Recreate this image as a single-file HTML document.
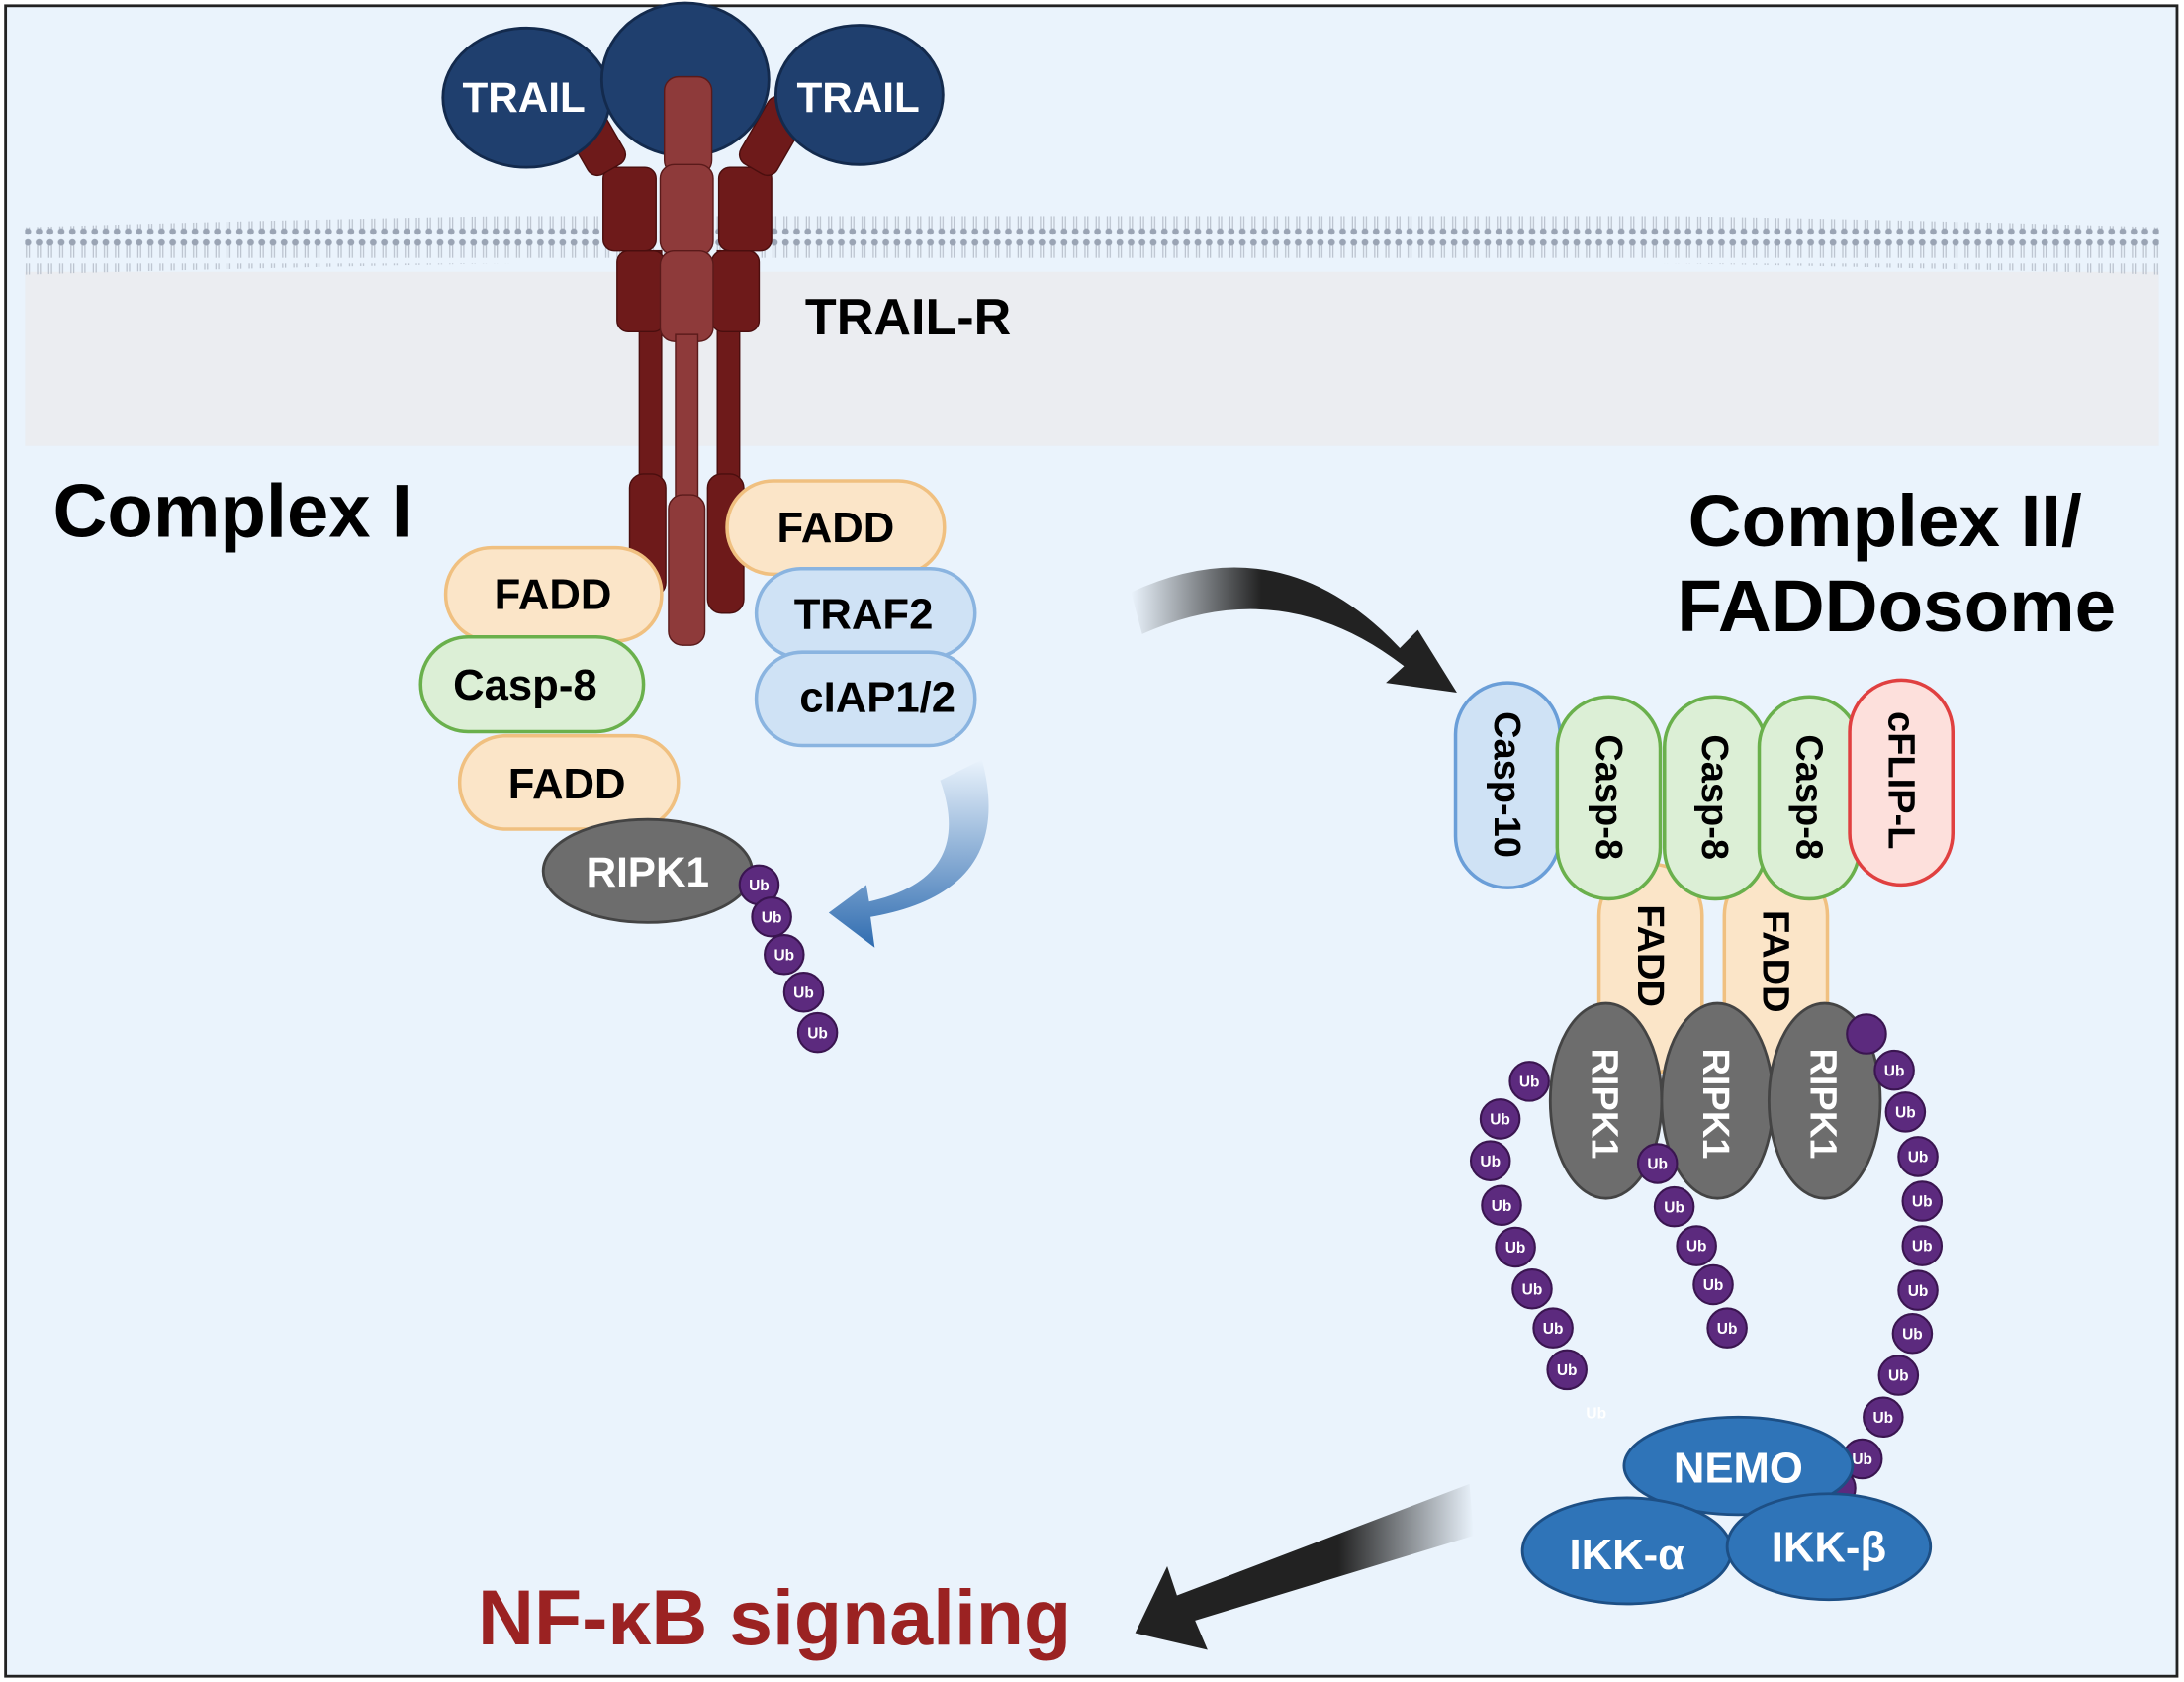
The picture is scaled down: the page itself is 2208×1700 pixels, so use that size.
<!DOCTYPE html>
<html><head><meta charset="utf-8"><style>html,body{margin:0;padding:0;background:#fff}svg{display:block}text{font-family:"Liberation Sans",sans-serif;font-weight:bold}</style></head><body>
<svg width="2208" height="1700" viewBox="0 0 1568 1207" xmlns="http://www.w3.org/2000/svg">
<defs>
<pattern id="lip" width="8" height="34" patternUnits="userSpaceOnUse">
<circle cx="4" cy="4" r="2.4" fill="#9aa4b4"/><line x1="3" y1="6" x2="3" y2="15" stroke="#b5bdc9" stroke-width="0.8"/><line x1="5" y1="6" x2="5" y2="15" stroke="#b5bdc9" stroke-width="0.8"/>
<line x1="3" y1="19" x2="3" y2="28" stroke="#b5bdc9" stroke-width="0.8"/><line x1="5" y1="19" x2="5" y2="28" stroke="#b5bdc9" stroke-width="0.8"/><circle cx="4" cy="30" r="2.4" fill="#9aa4b4"/>
</pattern>
<linearGradient id="g1" x1="0" y1="0" x2="1" y2="0"><stop offset="0" stop-color="#222" stop-opacity="0"/><stop offset="0.4" stop-color="#222"/><stop offset="1" stop-color="#222"/></linearGradient>
<linearGradient id="g2" x1="1" y1="0" x2="0" y2="0"><stop offset="0" stop-color="#222" stop-opacity="0"/><stop offset="0.4" stop-color="#222"/><stop offset="1" stop-color="#222"/></linearGradient>
<linearGradient id="g3" x1="0" y1="0" x2="0" y2="1"><stop offset="0" stop-color="#2f6cb0" stop-opacity="0"/><stop offset="1" stop-color="#2f6cb0"/></linearGradient>
</defs>
<rect x="4" y="4" width="1559" height="1199" fill="#eaf3fc" stroke="#222" stroke-width="2"/>
<rect x="18" y="195" width="1532" height="125" fill="#ebedf1"/>
<path d="M18 163 Q 780 140 1550 163 L1550 197 Q 780 174 18 197 Z" fill="url(#lip)"/>
<g fill="#6e1a1a" stroke="#4a0e0e" stroke-width="1">
<rect x="459" y="180" width="16" height="170"/><rect x="515" y="180" width="16" height="170"/>
<rect x="443" y="180" width="34" height="58" rx="8"/><rect x="511" y="180" width="34" height="58" rx="8"/>
<rect x="433" y="120" width="38" height="60" rx="8"/><rect x="516" y="120" width="38" height="60" rx="8"/>
<rect x="410" y="70" width="30" height="55" rx="8" transform="rotate(-30 425 97)"/><rect x="540" y="70" width="30" height="55" rx="8" transform="rotate(30 555 97)"/>
<rect x="452" y="340" width="26" height="88" rx="10"/><rect x="508" y="340" width="26" height="100" rx="10"/>
</g>
<ellipse cx="378" cy="70" rx="60" ry="50" fill="#1f3f6e" stroke="#132a4d" stroke-width="2"/>
<ellipse cx="617" cy="68" rx="60" ry="50" fill="#1f3f6e" stroke="#132a4d" stroke-width="2"/>
<ellipse cx="492" cy="57" rx="60" ry="55" fill="#1f3f6e" stroke="#132a4d" stroke-width="2"/>
<text x="332" y="80" font-size="30" fill="#fff">TRAIL</text>
<text x="572" y="80" font-size="30" fill="#fff">TRAIL</text>
<g fill="#8e3a3a" stroke="#5a1a1a" stroke-width="1">
<rect x="477" y="55" width="34" height="70" rx="10"/><rect x="474" y="118" width="38" height="65" rx="10"/><rect x="474" y="180" width="38" height="65" rx="10"/><rect x="485" y="240" width="16" height="120"/><rect x="480" y="355" width="26" height="108" rx="10"/>
</g>
<text x="578" y="240" font-size="37">TRAIL-R</text>
<text x="38" y="385" font-size="54">Complex I</text>
<text x="1212" y="392" font-size="53">Complex II/</text>
<text x="1204" y="453" font-size="53">FADDosome</text>
<g stroke-width="2.5" font-size="30">
<rect x="320" y="393" width="155" height="67" rx="33" fill="#fbe5c8" stroke="#f0c080"/>
<rect x="302" y="457" width="160" height="68" rx="34" fill="#dcefd6" stroke="#6ab04c"/>
<rect x="330" y="528" width="157" height="67" rx="33" fill="#fbe5c8" stroke="#f0c080"/>
<rect x="522" y="345" width="156" height="67" rx="33" fill="#fbe5c8" stroke="#f0c080"/>
<rect x="543" y="408" width="157" height="64" rx="32" fill="#cfe2f5" stroke="#8ab4e0"/>
<rect x="543" y="468" width="157" height="67" rx="33" fill="#cfe2f5" stroke="#8ab4e0"/>
</g>
<g font-size="31" text-anchor="middle">
<text x="397" y="437">FADD</text><text x="377" y="502">Casp-8</text><text x="407" y="573">FADD</text>
<text x="600" y="389">FADD</text><text x="620" y="451">TRAF2</text><text x="630" y="511">cIAP1/2</text>
</g>
<ellipse cx="465" cy="625" rx="75" ry="37" fill="#6d6d6d" stroke="#444" stroke-width="2"/>
<text x="465" y="636" font-size="30" fill="#fff" text-anchor="middle">RIPK1</text>
<g fill="#5c2a7e" stroke="#3a1550" stroke-width="1.5">
<circle cx="545" cy="635" r="14"/><circle cx="554" cy="658" r="14"/><circle cx="563" cy="685" r="14"/><circle cx="577" cy="712" r="14"/><circle cx="587" cy="741" r="14"/>
</g>
<g fill="#fff" font-size="11" text-anchor="middle"><text x="545" y="639">Ub</text><text x="554" y="662">Ub</text><text x="563" y="689">Ub</text><text x="577" y="716">Ub</text><text x="587" y="745">Ub</text></g>
<path d="M705 545 Q 730 640 625 658 L628 680 L595 655 L622 635 L624 647 Q 700 630 675 560 Z" fill="url(#g3)"/>
<path d="M812 425 Q 920 375 1005 465 L1018 452 L1046 497 L995 490 L1008 478 Q 920 410 820 455 Z" fill="url(#g1)"/>
<path d="M1055 1065 L845 1145 L838 1124 L815 1172 L867 1184 L858 1163 L1058 1102 Z" fill="url(#g2)"/>
<g stroke-width="2.5">
<rect x="1148" y="620" width="74" height="150" rx="37" fill="#fbe5c8" stroke="#f0c080"/>
<rect x="1238" y="620" width="74" height="150" rx="37" fill="#fbe5c8" stroke="#f0c080"/>
<rect x="1045" y="490" width="75" height="147" rx="37" fill="#cfe2f5" stroke="#6a9ed8"/>
<rect x="1118" y="500" width="74" height="145" rx="37" fill="#dcefd6" stroke="#6ab04c"/>
<rect x="1195" y="500" width="73" height="145" rx="36" fill="#dcefd6" stroke="#6ab04c"/>
<rect x="1263" y="500" width="72" height="145" rx="36" fill="#dcefd6" stroke="#6ab04c"/>
<rect x="1328" y="488" width="74" height="147" rx="37" fill="#fde0dc" stroke="#e04040"/>
</g>
<g font-size="27" text-anchor="middle">
<text transform="translate(1073 563) rotate(90)">Casp-10</text>
<text transform="translate(1146 572) rotate(90)">Casp-8</text>
<text transform="translate(1222 572) rotate(90)">Casp-8</text>
<text transform="translate(1290 572) rotate(90)">Casp-8</text>
<text transform="translate(1356 560) rotate(90)">cFLIP-L</text>
<text transform="translate(1176 686) rotate(90)">FADD</text>
<text transform="translate(1266 690) rotate(90)">FADD</text>
</g>
<g fill="#6d6d6d" stroke="#444" stroke-width="2">
<ellipse cx="1153" cy="790" rx="40" ry="70"/><ellipse cx="1233" cy="790" rx="40" ry="70"/><ellipse cx="1310" cy="790" rx="40" ry="70"/>
</g>
<g fill="#fff" font-size="27" text-anchor="middle">
<text transform="translate(1143 792) rotate(90)">RIPK1</text><text transform="translate(1223 792) rotate(90)">RIPK1</text><text transform="translate(1300 792) rotate(90)">RIPK1</text>
</g>
<g fill="#5c2a7e" stroke="#3a1550" stroke-width="1.5">
<circle cx="1098" cy="776" r="14"/><circle cx="1077" cy="803" r="14"/><circle cx="1070" cy="833" r="14"/><circle cx="1078" cy="865" r="14"/><circle cx="1088" cy="895" r="14"/><circle cx="1100" cy="925" r="14"/><circle cx="1115" cy="953" r="14"/><circle cx="1125" cy="983" r="14"/>
<circle cx="1190" cy="835" r="14"/><circle cx="1202" cy="866" r="14"/><circle cx="1218" cy="894" r="14"/><circle cx="1230" cy="922" r="14"/><circle cx="1240" cy="953" r="14"/>
<circle cx="1340" cy="742" r="14"/><circle cx="1360" cy="768" r="14"/><circle cx="1368" cy="798" r="14"/><circle cx="1377" cy="830" r="14"/><circle cx="1380" cy="862" r="14"/><circle cx="1380" cy="894" r="14"/><circle cx="1377" cy="926" r="14"/><circle cx="1373" cy="957" r="14"/><circle cx="1363" cy="987" r="14"/><circle cx="1352" cy="1017" r="14"/><circle cx="1337" cy="1047" r="14"/><circle cx="1318" cy="1068" r="14"/>
</g>
<g fill="#fff" font-size="11" text-anchor="middle">
<text x="1098" y="780">Ub</text><text x="1077" y="807">Ub</text><text x="1070" y="837">Ub</text><text x="1078" y="869">Ub</text><text x="1088" y="899">Ub</text><text x="1100" y="929">Ub</text><text x="1115" y="957">Ub</text><text x="1125" y="987">Ub</text><text x="1146" y="1018">Ub</text>
<text x="1190" y="839">Ub</text><text x="1202" y="870">Ub</text><text x="1218" y="898">Ub</text><text x="1230" y="926">Ub</text><text x="1240" y="957">Ub</text>
<text x="1360" y="772">Ub</text><text x="1368" y="802">Ub</text><text x="1377" y="834">Ub</text><text x="1380" y="866">Ub</text><text x="1380" y="898">Ub</text><text x="1377" y="930">Ub</text><text x="1373" y="961">Ub</text><text x="1363" y="991">Ub</text><text x="1352" y="1021">Ub</text><text x="1337" y="1051">Ub</text>
</g>
<g fill="#2f74b8" stroke="#1d4f85" stroke-width="2">
<ellipse cx="1248" cy="1052" rx="82" ry="35"/><ellipse cx="1168" cy="1113" rx="75" ry="38"/><ellipse cx="1313" cy="1110" rx="73" ry="38"/>
</g>
<g fill="#fff" font-size="31" text-anchor="middle">
<text x="1248" y="1064">NEMO</text><text x="1168" y="1126">IKK-α</text><text x="1313" y="1121">IKK-β</text>
</g>
<text x="343" y="1180" font-size="56" fill="#9b2222">NF-κB signaling</text>
</svg>
</body></html>
